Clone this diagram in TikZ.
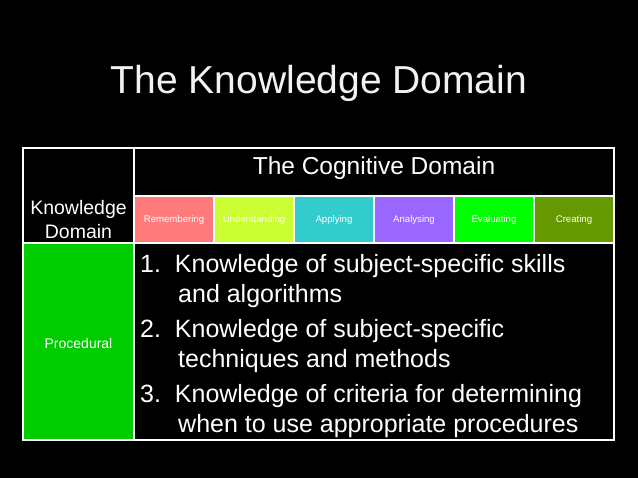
\documentclass[tikz,border=0pt]{standalone}
\usepackage{fontspec}
\setmainfont{Liberation Sans}
\begin{document}
\begin{tikzpicture}[x=1pt,y=-1pt,
  cell/.style={draw=white,line width=1.5pt},
  lab/.style={text=white,font=\fontsize{9.6}{11}\selectfont}]
\fill[black] (0,0) rectangle (638,478);
\useasboundingbox (0,0) rectangle (638,478);
\node[text=white!90!gray,font=\fontsize{39}{46}\selectfont] (title) at (319,83) {The Knowledge Domain};
\definecolor{c1}{HTML}{FF7B7B}\definecolor{c2}{HTML}{CCFF33}\definecolor{c3}{HTML}{33CCCC}
\definecolor{c4}{HTML}{9966FF}\definecolor{c5}{HTML}{00FF00}\definecolor{c6}{HTML}{669900}
\definecolor{proc}{HTML}{00CC00}
\foreach \i/\c/\t in {0/c1/Remembering,1/c2/Understanding,2/c3/Applying,3/c4/Analysing,4/c5/Evaluating,5/c6/Creating}{
  \fill[\c] (134+80*\i,196) rectangle (214+80*\i,243);
  \node[lab] (h\i) at (174+80*\i,220) {\t};
}
\fill[proc] (23,243) rectangle (134,440);
\draw[cell] (23,148) rectangle (614,440);
\draw[cell] (134,148) -- (134,440);
\draw[cell] (134,196) -- (614,196);
\draw[cell] (23,243) -- (614,243);
\foreach \i in {1,...,5}{\draw[cell] (134+80*\i,196) -- (134+80*\i,243);}
\node[text=white,font=\fontsize{24.5}{28}\selectfont] (cog) at (374,168) {The Cognitive Domain};
\node[text=white,font=\fontsize{19.5}{24}\selectfont,align=center] (kd) at (78.5,220) {Knowledge\\Domain};
\node[text=white,font=\fontsize{14}{16}\selectfont] (pr) at (78.5,343) {Procedural};
\node[text=white,font=\fontsize{25}{30}\selectfont,anchor=north west,align=left,inner sep=0pt] (body) at (140,254)
 {1.\ \ Knowledge of subject-specific skills\\
  \hspace*{38pt}and algorithms\\[5pt]
  2.\ \ Knowledge of subject-specific\\
  \hspace*{38pt}techniques and methods\\[5pt]
  3.\ \ Knowledge of criteria for determining\\
  \hspace*{38pt}when to use appropriate procedures};
\end{tikzpicture}
\end{document}
